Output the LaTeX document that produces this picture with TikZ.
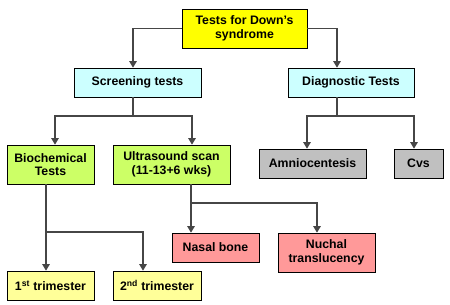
\documentclass[tikz,border=0pt]{standalone}
\usepackage{fontspec}
\setmainfont{Liberation Sans}
\usepackage{xcolor}
\usepackage{tikz}
\usetikzlibrary{arrows.meta,positioning,calc}
\definecolor{rootyel}{RGB}{255,255,0}
\definecolor{screencyan}{RGB}{204,255,255}
\definecolor{biogreen}{RGB}{204,255,102}
\definecolor{diaggrey}{RGB}{192,192,192}
\definecolor{scanpink}{RGB}{255,153,153}
\definecolor{trimyel}{RGB}{255,255,153}
\definecolor{linkgrey}{RGB}{70,70,70}

\begin{document}
\begin{tikzpicture}[x=1pt,y=-1pt,font=\fontsize{12.3}{13.5}\selectfont\bfseries,>={Triangle[width=7.5pt,length=6.5pt]}]
\tikzset{box/.style={draw=black,line width=0.7pt,align=center,inner sep=0pt,minimum height=29pt},
 link/.style={draw=linkgrey,line width=1.2pt},
 arr/.style={link,->,shorten >=0pt}}
\useasboundingbox (0,0) rectangle (450,305);
% top level
\node[box,fill=rootyel,minimum width=125pt,minimum height=39pt] (top) at (244.5,28.5) {Tests for Down's\\syndrome};
\node[box,fill=screencyan,minimum width=127pt] (screen) at (137.5,82.5) {Screening tests};
\node[box,fill=screencyan,minimum width=126pt] (diag) at (351,82.5) {Diagnostic Tests};
% second level
\node[box,fill=biogreen,minimum width=87pt,minimum height=39pt] (bio) at (50.5,164.5) {Biochemical\\Tests};
\node[box,fill=biogreen,minimum width=117pt,minimum height=39pt] (ultra) at (171.5,164.5) {Ultrasound scan\\(11-13+6 wks)};
\node[box,fill=diaggrey,minimum width=107pt] (amnio) at (312.5,163.5) {Amniocentesis};
\node[box,fill=diaggrey,minimum width=49pt] (cvs) at (418.5,163.5) {Cvs};
% third level
\node[box,fill=scanpink,minimum width=87pt] (nasal) at (215.5,247.5) {Nasal bone};
\node[box,fill=scanpink,minimum width=97pt,minimum height=39pt] (nuchal) at (326.5,252.5) {Nuchal\\translucency};
\node[box,fill=trimyel,minimum width=87pt] (tri1) at (50.5,285.5) {1\textsuperscript{st} trimester};
\node[box,fill=trimyel,minimum width=88pt] (tri2) at (157,285.5) {2\textsuperscript{nd} trimester};
% junctions
\coordinate (sj) at (133,116);
\coordinate (dj) at (337,116);
\coordinate (bj) at (46,232);
\coordinate (uj) at (191,203);
% connectors
\draw[arr] (top.west) -| ([xshift=-4.5pt]screen.north);
\draw[arr] (top.east) -| ([xshift=-14pt]diag.north);
\draw[link] (screen.south -| sj) -- (sj);
\draw[arr] (sj) -| ([xshift=4.5pt]bio.north);
\draw[arr] (sj) -| ([xshift=20.5pt]ultra.north);
\draw[link] (diag.south -| dj) -- (dj);
\draw[arr] (dj) -| ([xshift=-5.5pt]amnio.north);
\draw[arr] (dj) -| ([xshift=-4.5pt]cvs.north);
\draw[link] (bio.south -| bj) -- (bj);
\draw[arr] (bj) -| ([xshift=-4.5pt]tri1.north);
\draw[arr] (bj) -| ([xshift=-14pt]tri2.north);
\draw[link] (ultra.south -| uj) -- (uj);
\draw[arr] (uj) -| ([xshift=-24.5pt]nasal.north);
\draw[arr] (uj) -| ([xshift=-9.5pt]nuchal.north);
\end{tikzpicture}
\end{document}
